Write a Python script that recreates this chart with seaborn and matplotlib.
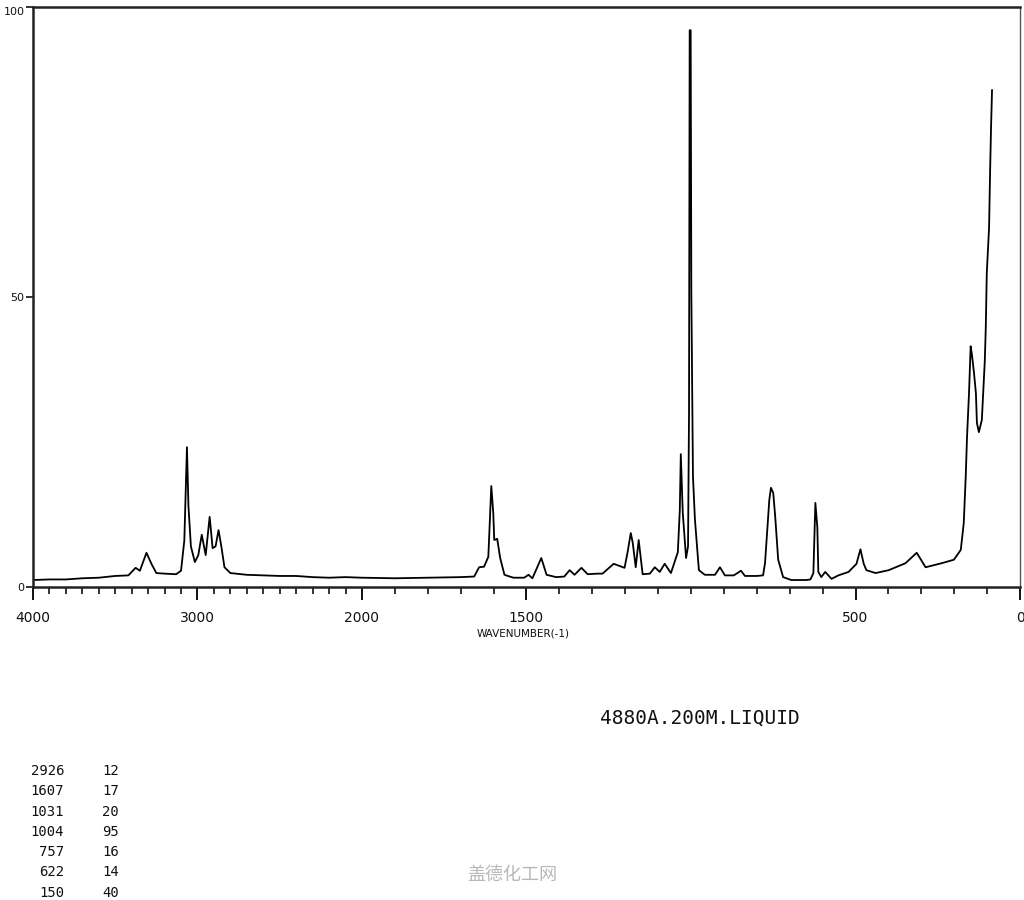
##
# Raman spectrum (4880A, 200mW, liquid) redrawn with seaborn
##

import numpy as np
import pandas as pd
import matplotlib.pyplot as plt
import seaborn as sns

# Spectrum: wavenumber (cm-1) and relative intensity
wavenumber = [
    4000, 3900, 3800, 3700, 3600, 3500, 3420, 3376, 3350, 3310, 3280, 3250,
    3200, 3130, 3100, 3080, 3064, 3055, 3040, 3016, 2995, 2974, 2950, 2926,
    2908, 2890, 2872, 2855, 2836, 2800, 2700, 2600, 2500, 2400, 2300, 2200,
    2100, 2000, 1900, 1800, 1700, 1659, 1644, 1629, 1616, 1607, 1601, 1598,
    1589, 1580, 1567, 1540, 1507, 1494, 1482, 1455, 1439, 1410, 1385, 1369,
    1354, 1333, 1314, 1284, 1269, 1235, 1202, 1193, 1183, 1177, 1168, 1159,
    1153, 1147, 1125, 1110, 1095, 1080, 1061, 1040, 1034, 1031, 1025, 1015,
    1009, 1006, 1004, 1001, 999, 994, 988, 976, 958, 927, 912, 897, 870, 848,
    836, 800, 781, 775, 762, 757, 750, 744, 735, 720, 695, 650, 637, 628, 622,
    616, 613, 604, 592, 573, 552, 521, 497, 485, 475, 467, 439, 399, 348, 314,
    287, 238, 201, 180, 171, 165, 161, 155, 150, 146, 140, 134, 131, 125, 116,
    113, 107, 104, 101, 94, 91, 88, 85,
]
intensity = [
    1.2, 1.3, 1.3, 1.5, 1.6, 1.9, 2.0, 3.3, 2.8, 5.9, 4.0, 2.4,
    2.3, 2.2, 2.8, 8.0, 24.1, 14.0, 7.0, 4.3, 5.5, 9.0, 5.5, 12.1,
    6.7, 7.0, 9.8, 7.0, 3.4, 2.4, 2.1, 2.0, 1.9, 1.9, 1.7, 1.6,
    1.7, 1.6, 1.5, 1.6, 1.7, 1.8, 3.4, 3.5, 5.2, 17.4, 12.8, 8.1,
    8.3, 5.0, 2.1, 1.6, 1.6, 2.1, 1.5, 5.0, 2.1, 1.7, 1.8, 2.9,
    2.1, 3.3, 2.2, 2.3, 2.3, 4.0, 3.3, 5.9, 9.3, 7.6, 3.4, 8.1,
    5.2, 2.2, 2.3, 3.4, 2.6, 4.0, 2.4, 6.0, 13.3, 22.9, 12.8, 5.0,
    7.0, 30.0, 96.0, 96.0, 51.0, 19.0, 11.6, 2.9, 2.1, 2.1, 3.4, 2.0, 2.0, 2.8,
    1.9, 1.9, 2.0, 4.1, 15.0, 17.1, 16.2, 12.1, 4.7, 1.7, 1.2, 1.2, 1.3, 2.4, 14.5,
    10.3, 2.6, 1.7, 2.6, 1.4, 2.0, 2.6, 4.0, 6.5, 4.0, 2.9, 2.4, 2.9, 4.1, 5.9,
    3.4, 4.1, 4.7, 6.4, 11.0, 19.0, 25.9, 33.4, 41.5, 40.0, 37.0, 33.4, 28.3, 26.7, 28.8,
    32.2, 39.0, 44.8, 54.1, 62.0, 71.4, 79.3, 85.7,
]

# Peak table printed under the chart
peak_pos = ["2926", "1607", "1031", "1004", "757", "622", "150"]
peak_int = ["12", "17", "20", "95", "16", "14", "40"]

x_major = [4000, 3000, 2000, 1500, 500, 0]
y_major = [0, 50, 100]

df = pd.DataFrame({"wavenumber": wavenumber, "intensity": intensity})


def fwd(x):
    """Below 2000 cm-1 the axis runs at twice the scale"""
    x = np.asarray(x, dtype=float)
    return np.where(x <= 2000, x, 2000 + (x - 2000) / 2)


def inv(u):
    u = np.asarray(u, dtype=float)
    return np.where(u <= 2000, u, 2000 + (u - 2000) * 2)


sns.set_style("ticks")
plt.rcParams["font.family"] = ["DejaVu Sans"]

fig = plt.figure(figsize=(10.24, 9.0), dpi=100)
ax = fig.add_axes([0.0322, 0.3478, 0.9639, 0.6444])

_ = sns.lineplot(
    data=df,
    x="wavenumber",
    y="intensity",
    color="black",
    linewidth=1.3,
    estimator=None,
    sort=False,
    ax=ax,
)

ax.set_xscale("function", functions=(fwd, inv))
ax.set_xlim(4000, 0)
ax.set_ylim(0, 100)

ax.set_xticks(x_major)
ax.set_xticklabels([str(v) for v in x_major])
ax.set_xticks(np.arange(0, 4001, 100), minor=True)
ax.set_yticks(y_major)
ax.set_yticklabels([str(v) for v in y_major])
# keep the top label inside the figure
ax.get_yticklabels()[-1].set_verticalalignment("top")

ax.tick_params(axis="x", which="major", direction="out", length=9, width=1.4,
               pad=8, labelsize=10, colors="#111111")
ax.tick_params(axis="x", which="minor", direction="out", length=5, width=1.2,
               colors="#111111")
ax.tick_params(axis="y", which="major", direction="out", length=5, width=1.2,
               pad=1, labelsize=8, colors="#111111")

for side in ["left", "bottom", "top"]:
    ax.spines[side].set_linewidth(1.8)
    ax.spines[side].set_color("#222222")
ax.spines["right"].set_linewidth(1.0)
ax.spines["right"].set_color("#555555")

_ = ax.set_xlabel("")
_ = ax.set_ylabel("")

fig.text(523 / 1024, 1 - 633 / 900, "WAVENUMBER(-1)", ha="center", va="center",
         fontsize=7.5, color="#111111")

fig.text(600 / 1024, 1 - 718 / 900, "4880A.200M.LIQUID", ha="left", va="center",
         fontsize=14, family="DejaVu Sans Mono", color="#111111")

for i, (p, v) in enumerate(zip(peak_pos, peak_int)):
    yy = 1 - (771 + i * 20.3) / 900
    fig.text(64 / 1024, yy, p, ha="right", va="center", fontsize=10,
             family="DejaVu Sans Mono", color="#111111")
    fig.text(119 / 1024, yy, v, ha="right", va="center", fontsize=10,
             family="DejaVu Sans Mono", color="#111111")

fig.text(512 / 1024, 1 - 875 / 900, "盖德化工网", ha="center", va="center",
         fontsize=13, color="#b8b8b8", family=["Noto Sans CJK SC", "DejaVu Sans"])

plt.savefig("out.png", dpi=100)
